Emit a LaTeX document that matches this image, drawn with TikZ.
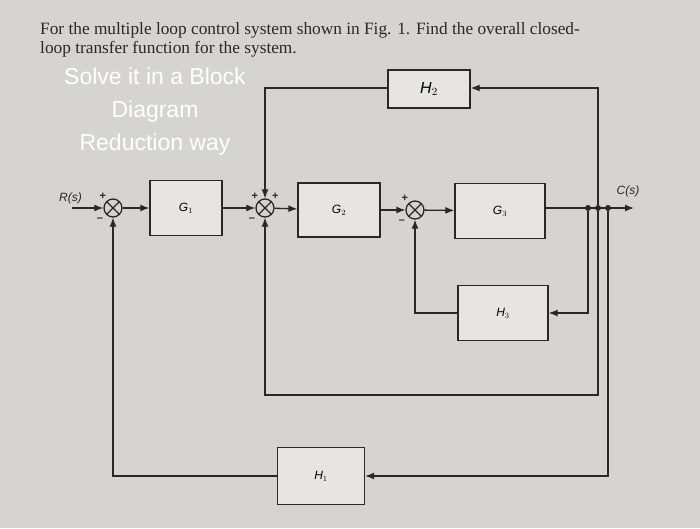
\documentclass[tikz,border=0pt]{standalone}
\usepackage{fontspec}
\setmainfont{Liberation Serif}
\setsansfont{Liberation Sans}
\usetikzlibrary{positioning,arrows.meta}
\definecolor{paper}{RGB}{214,212,208}
\definecolor{ink}{RGB}{40,40,40}
\begin{document}
\begin{tikzpicture}[x=1pt,y=-1pt,
    block/.style={draw=ink,line width=1.3pt,fill=paper!60!white,font=\sffamily\itshape\fontsize{12}{14}\selectfont},
    summer/.style={draw=ink,line width=1.3pt,circle,minimum size=18pt,inner sep=0pt,
      path picture={\draw[ink,line width=1.3pt] (path picture bounding box.north west)--(path picture bounding box.south east)
        (path picture bounding box.north east)--(path picture bounding box.south west);}},
    sig/.style={font=\sffamily\bfseries\fontsize{11}{12}\selectfont,text=ink,inner sep=1pt},
    line/.style={draw=ink,line width=1.3pt},
    arr/.style={line,-{Latex[length=9pt,width=7pt]}},
    dot/.style={circle,fill=ink,inner sep=0pt,minimum size=6pt},
    overlay text/.style={text=white,font=\sffamily\fontsize{23}{33}\selectfont,align=center}]
  \useasboundingbox[fill=paper] (0,0) rectangle (700,528);
  % question
  \node[anchor=north west,align=left,font=\fontsize{17.3}{19}\selectfont,text=ink,inner sep=0pt] (question) at (40,22)
    {For the multiple loop control system shown in Fig. 1. Find the overall closed-\\loop transfer function for the system.};
  \node[overlay text] (note) at (155,112) {Solve it in a Block\\Diagram\\Reduction way};

  % forward path
  \node[block,minimum width=72pt,minimum height=55pt] (G1) at (186,208) {G$_1$};
  \node[block,minimum width=82pt,minimum height=54pt] (G2) at (339,210) {G$_2$};
  \node[block,minimum width=90pt,minimum height=55pt] (G3) at (500,211) {G$_3$};
  \node[block,minimum width=90pt,minimum height=55pt] (H3) at (503,313) {H$_3$};
  \node[block,minimum width=82pt,minimum height=38pt,font=\sffamily\itshape\fontsize{16}{18}\selectfont] (H2) at (429,89) {H$_2$};
  \node[block,minimum width=87pt,minimum height=57pt] (H1) at (321,476) {H$_1$};
  \node[summer] (S1) at (113,208) {};
  \node[summer] (S2) at (265,208) {};
  \node[summer] (S3) at (415,210) {};

  \coordinate (in) at (72,208);
  \coordinate (out) at (634,208);
  \node[dot] (P3) at (588,208) {};
  \node[dot] (P2) at (598,208) {};
  \node[dot] (P1) at (608,208) {};
  \node[sig,font=\sffamily\itshape\fontsize{12}{14}\selectfont,above right=3pt and -14pt of in] (Rs) {R(s)};
  \node[sig,font=\sffamily\itshape\fontsize{12}{14}\selectfont,anchor=south] (Cs) at (628,198) {C(s)};

  \draw[arr] (in) -- (S1);
  \draw[arr] (S1) -- (G1);
  \draw[arr] (G1) -- (S2);
  \draw[arr] (S2) -- (G2);
  \draw[arr] (G2) -- (S3);
  \draw[arr] (S3) -- (G3);
  \draw[arr] (G3.east |- P3) -- (out);

  % inner loop
  \draw[arr] (P3) |- (H3.east);
  \draw[arr] (H3.west) -| (S3.south);
  % H2 loop
  \coordinate (T2) at (598,88);
  \draw[arr] (P2) -- (T2) -- (H2.east |- T2);
  \draw[arr] (H2.west |- T2) -| (S2.north);
  % unity loop
  \coordinate (B2) at (598,395);
  \draw[arr] (P2) -- (B2) -| (S2.south);
  % H1 loop
  \coordinate (B1) at (608,476);
  \draw[arr] (P1) -- (B1) -- (H1.east);
  \draw[arr] (H1.west) -| (S1.south);

  % signs
  \node[sig,above left=0pt and -1pt of S1] (s1a) {+};
  \node[sig,below left=2pt and 2pt of S1] (s1b) {--};
  \node[sig,above left=0pt and -1pt of S2] (s2a) {+};
  \node[sig,above right=0pt and -1pt of S2] (s2b) {+};
  \node[sig,below left=2pt and 2pt of S2] (s2c) {--};
  \node[sig,above left=0pt and -1pt of S3] (s3a) {+};
  \node[sig,below left=2pt and 2pt of S3] (s3b) {--};
\end{tikzpicture}
\end{document}
